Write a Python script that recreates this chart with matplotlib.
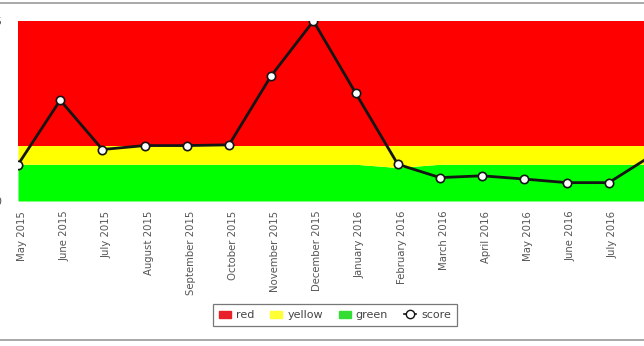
import matplotlib
matplotlib.use("Agg")
import matplotlib.pyplot as plt
import matplotlib.transforms as mtransforms
from matplotlib.patches import Patch
from matplotlib.lines import Line2D

# ---------------------------------------------------------------------------
# Monthly score with traffic-light bands
# ---------------------------------------------------------------------------
months = ["May 2015", "June 2015", "July 2015", "August 2015", "September 2015",
          "October 2015", "November 2015", "December 2015", "January 2016",
          "February 2016", "March 2016", "April 2016", "May 2016", "June 2016",
          "July 2016", "August 2016"]

score = [1.01, 2.8, 1.43, 1.54, 1.54, 1.56, 3.48, 5.0, 3.0, 1.02,
         0.65, 0.70, 0.61, 0.51, 0.51, 1.25]

# upper edges of the stacked bands
green_top = [1.02, 1.02, 1.02, 1.02, 1.02, 1.02, 1.02, 1.02, 1.02, 0.93,
             1.02, 1.02, 1.02, 1.02, 1.02, 1.02]
yellow_top = [1.54] * 16
red_top = [5.0] * 16

W, H = 644, 346
fig = plt.figure(figsize=(W / 100, H / 100), dpi=100)
ax = fig.add_axes([18 / W, (H - 201) / H, 1 - 18 / W, 180 / H])

x = list(range(len(months)))
ax.fill_between(x, 0, green_top, color="#00ff00", lw=0)
ax.fill_between(x, green_top, yellow_top, color="#ffff00", lw=0)
ax.fill_between(x, yellow_top, red_top, color="#ff0000", lw=0)
ax.plot(x, score, color="#151515", lw=2, marker="o", ms=6,
        mfc="white", mec="#151515", mew=1.2, zorder=5)

ax.set_yticks([0, 5])
ax.set_yticklabels(["0", "5"], color="#555555", fontsize=8)
ax.set_xticks(x)
ax.set_xticklabels(months, rotation=90, color="#555555", fontsize=7.3)
# set_xticks widens the view, so fix the limits afterwards
ax.set_xlim(0, (W - 18) / 42.2)
ax.set_ylim(0, 5)
ax.tick_params(length=0, axis="x", pad=7)
ax.tick_params(length=0, axis="y", pad=12)
shift = mtransforms.ScaledTranslation(4 / 100, 0, fig.dpi_scale_trans)
for lbl in ax.get_xticklabels():
    lbl.set_transform(lbl.get_transform() + shift)
for s in ax.spines.values():
    s.set_visible(False)

handles = [
    Patch(color="#e8202a", label="red"),
    Patch(color="#ffff33", label="yellow"),
    Patch(color="#33dd33", label="green"),
    Line2D([], [], color="#111111", lw=1.2, marker="o", ms=6, mfc="white",
           mec="#111111", label="score"),
]
leg = fig.legend(handles=handles, loc="center", ncol=4,
                 bbox_to_anchor=(335 / W, (H - 315) / H), fontsize=8,
                 frameon=True, fancybox=False, edgecolor="#555555",
                 handlelength=1.1, handleheight=0.6, columnspacing=1.4,
                 handletextpad=0.45, borderpad=0.55)
leg.get_frame().set_linewidth(0.9)
for t in leg.get_texts():
    t.set_color("#444444")

# thin grey rules framing the chart
fig.add_artist(Line2D([0, 1], [1 - 3 / H, 1 - 3 / H], color="#999999", lw=1.2))
fig.add_artist(Line2D([0, 1], [6 / H, 6 / H], color="#999999", lw=1.2))

fig.savefig("out.png", dpi=100)
